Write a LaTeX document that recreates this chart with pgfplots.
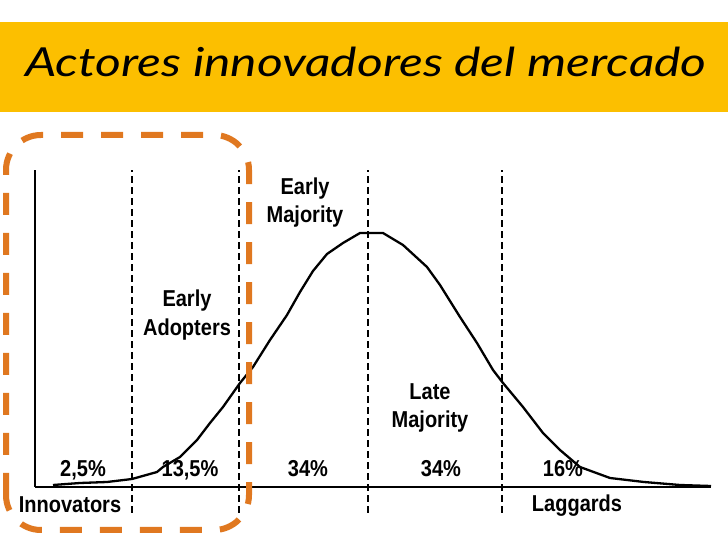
\documentclass[border=0pt]{standalone}
\usepackage{pgfplots}
\pgfplotsset{compat=1.18}
\usepackage{fontspec}
\setmainfont{Liberation Sans}
\newfontfamily\titlefont{Lato}
\definecolor{band}{RGB}{252,191,0}
\definecolor{orng}{RGB}{224,120,32}
\tikzset{lbl/.style={anchor=base, inner sep=0pt, font=\fontsize{23}{23}\selectfont\bfseries}}
\newcommand\lb[1]{\scalebox{0.87}[1]{#1}}
\begin{document}
\begin{tikzpicture}[x=1pt,y=1pt]
\useasboundingbox (0,0) rectangle (728,546);
\fill[white] (0,0) rectangle (728,546);
\fill[band] (0,434) rectangle (728,524);
\node[anchor=base west, inner sep=0pt] at (25,469) {\scalebox{1.245}[1]{\titlefont\itshape\fontsize{40}{40}\selectfont Actores innovadores del mercado}};
\begin{axis}[
  at={(35pt,59pt)}, anchor=south west,
  scale only axis, width=676pt, height=317pt,
  xmin=35, xmax=711, ymin=0, ymax=317,
  axis x line=bottom, axis y line=left,
  axis line style={-, line width=2.6pt, black},
  xtick=\empty, ytick=\empty,
  clip=false,
]
\addplot[black, line width=2.3pt, no marks, line join=round] coordinates {
(53,2)(80,4)(107,5)(132,8)(157,15)(163,20)(180,30)(197,47)(210,64)(223,80)
(240,104)(253,120)(270,147)(287,172)(300,195)(313,216)(327,233)(343,244)
(360,254)(383,254)(403,242)(427,220)(440,202)(460,170)(477,144)(493,117)
(503,104)(523,80)(543,54)(560,37)(580,20)(610,9)(644,5)(680,2)(711,1)};
\addplot[black, line width=2.8pt, dash pattern=on 7pt off 4pt, no marks] coordinates {(132,-26)(132,317)};
\addplot[black, line width=2.8pt, dash pattern=on 7pt off 4pt, no marks] coordinates {(239,-26)(239,317)};
\addplot[black, line width=2.8pt, dash pattern=on 7pt off 4pt, no marks] coordinates {(368,-26)(368,317)};
\addplot[black, line width=2.8pt, dash pattern=on 7pt off 4pt, no marks] coordinates {(502,-26)(502,317)};
\node[lbl] at (axis cs:83,10) {\lb{2,5\%}};
\node[lbl] at (axis cs:190,10) {\lb{13,5\%}};
\node[lbl] at (axis cs:308,10) {\lb{34\%}};
\node[lbl] at (axis cs:441,10) {\lb{34\%}};
\node[lbl] at (axis cs:563,10) {\lb{16\%}};
\node[lbl] at (axis cs:70,-26) {\lb{Innovators}};
\node[lbl] at (axis cs:577,-25) {\lb{Laggards}};
\node[lbl] at (axis cs:187,180) {\lb{Early}};
\node[lbl] at (axis cs:187,151) {\lb{Adopters}};
\node[lbl] at (axis cs:305,292) {\lb{Early}};
\node[lbl] at (axis cs:305,264) {\lb{Majority}};
\node[lbl] at (axis cs:430,87) {\lb{Late}};
\node[lbl] at (axis cs:430,59) {\lb{Majority}};
\end{axis}
\draw[orng, line width=6pt, rounded corners=35pt, dash pattern=on 22pt off 18pt] (6,16) rectangle (249,411);
\end{tikzpicture}
\end{document}
